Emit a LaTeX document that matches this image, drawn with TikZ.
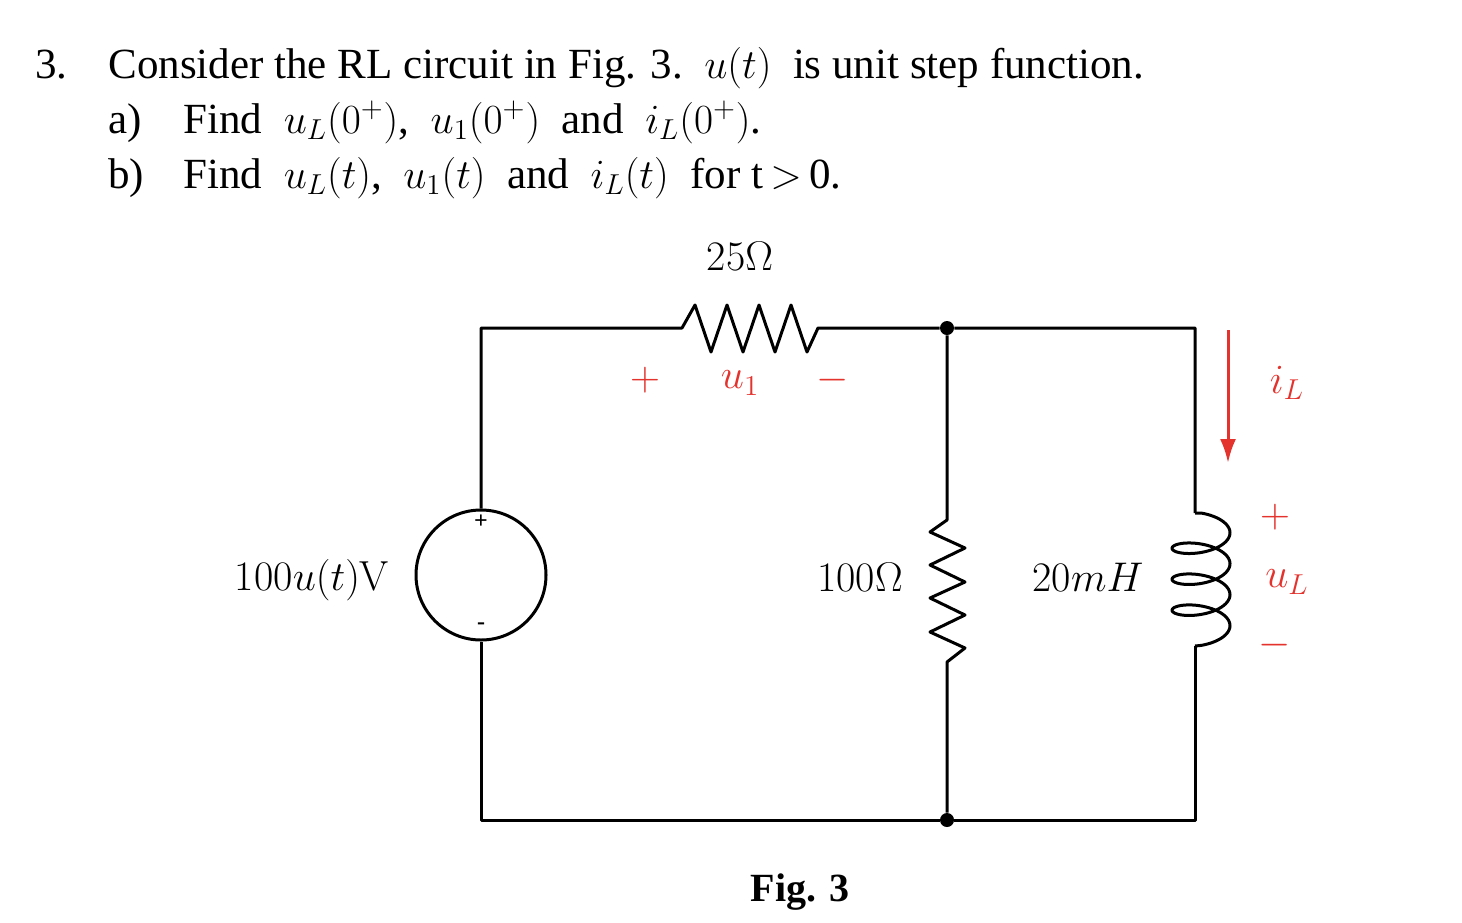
\documentclass[tikz,border=0pt]{standalone}
\usepackage{fontspec}
\setmainfont{Liberation Serif}
\newfontfamily\lmr{Latin Modern Roman}
\definecolor{rr}{RGB}{228,50,45}
\usetikzlibrary{arrows.meta}
\begin{document}
\begin{tikzpicture}[x=0.5pt,y=-0.5pt,
  w/.style={line width=1.5pt,line join=round},
  hd/.style={anchor=base west,font=\fontsize{21.5}{26}\selectfont,inner sep=0},
  lb/.style={font=\lmr\fontsize{21}{24}\selectfont,inner sep=0},
  rd/.style={text=rr,font=\lmr\fontsize{21}{24}\selectfont,inner sep=0},
  dot/.style={circle,fill=black,inner sep=0,minimum size=7pt}]
\useasboundingbox (0,0) rectangle (1462,922);
% text
\node[hd] (n3) at (35,78) {3.};
\node[hd] (l1) at (108,78) {Consider the RL circuit in Fig. 3.\ \ $u(t)$\ \ is unit step function.};
\node[hd] (la) at (108,133) {a)};
\node[hd] (ta) at (183,133) {Find\ \ $u_L(0^+)$,\ \ $u_1(0^+)$\ \ and\ \ $i_L(0^+)$.};
\node[hd] (lbb) at (108,188) {b)};
\node[hd] (tb) at (183,188) {Find\ \ $u_L(t)$,\ \ $u_1(t)$\ \ and\ \ $i_L(t)$\ \ for t\,$>$\,0.};
% coordinates
\coordinate (tl) at (481,328); \coordinate (bl) at (481,820);
\coordinate (r1a) at (672,328); \coordinate (r1b) at (840,328);
\node[dot] (tm) at (947,328) {}; \node[dot] (bm) at (947,820) {};
\coordinate (tr) at (1195,328); \coordinate (br) at (1195,820);
\node[circle,draw,line width=1.5pt,minimum size=65pt,inner sep=0] (src) at (481,575) {};
% wires
\draw[w] (src.north) -- (tl) -- (r1a) -- (682,328) -- (695,305) -- (711,352) -- (727,305) -- (743,352) -- (759,305) -- (775,352) -- (791,305) -- (807,352) -- (818,328) -- (r1b) -- (tm) -- (tr) -- (1195,513);
\draw[w] (src.south) -- (bl) -- (bm) -- (br) -- (1195,646);
\draw[w] (tm) -- (947,520) -- (930,532) -- (965,548) -- (930,565) -- (965,582) -- (930,598) -- (965,615) -- (930,632) -- (965,648) -- (947,662) -- (bm);
% inductor
\draw[w] (1195,513) -- (1201,513) plot[domain=0:1260,samples=200,smooth] ({1201+29*sin(\x)},{525+\x/180*3.14159*4.93-12*cos(\x)}) -- (1195,646);
% source signs
\node[font=\bfseries\fontsize{12}{12}\selectfont] (sp) at (481,522) {+};
\node[font=\bfseries\fontsize{12}{12}\selectfont] (sm) at (481,626) {-};
% labels
\node[lb] (l25) at (740,257) {25$\Omega$};
\node[lb] (l100) at (860,578) {100$\Omega$};
\node[lb] (lL) at (1088,578) {20$mH$};
\node[lb] (lV) at (312,580) {100$u(t)$V};
\node[rd] (p1) at (645,380) {$+$};
\node[rd] (u1) at (740,383) {$u_1$};
\node[rd] (m1) at (833,380) {$-$};
\node[rd] (iL) at (1287,383) {$i_L$};
\node[rd] (p2) at (1275,517) {$+$};
\node[rd] (uL) at (1287,582) {$u_L$};
\node[rd] (m2) at (1275,645) {$-$};
\coordinate (a1) at (1228,330); \coordinate (a2) at (1228,463);
\draw[rr,line width=1.5pt,-{Latex[length=12pt,width=8pt]}] (a1) -- (a2);
\node[font=\bfseries\fontsize{20}{24}\selectfont] (fig) at (800,892) {Fig. 3};
\end{tikzpicture}
\end{document}
